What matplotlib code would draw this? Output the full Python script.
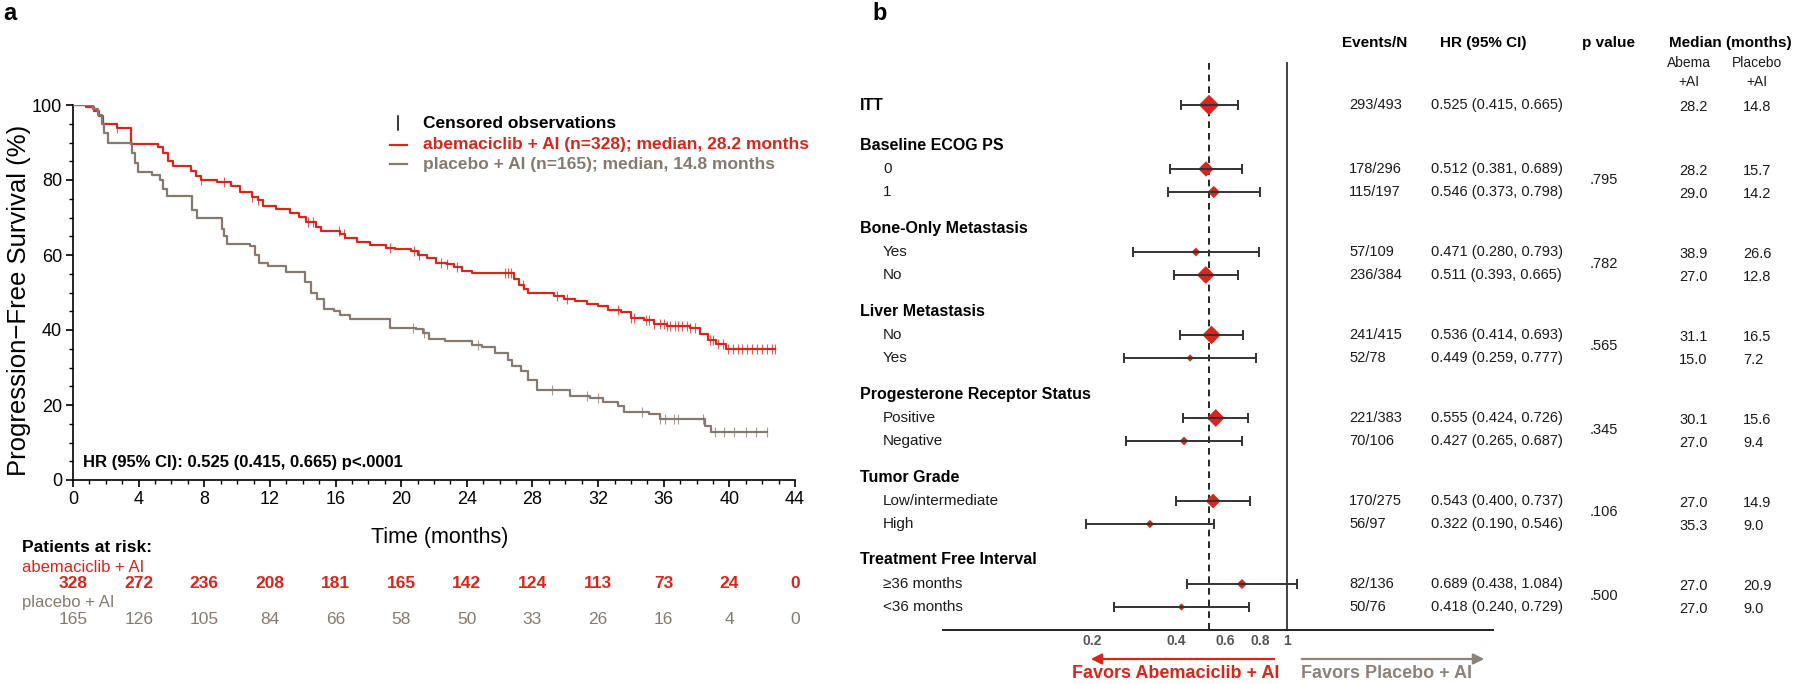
import numpy as np
import matplotlib
matplotlib.use("Agg")
import matplotlib.pyplot as plt
from matplotlib.lines import Line2D
from matplotlib.ticker import MultipleLocator, NullLocator
from matplotlib.transforms import blended_transform_factory

plt.rcParams["font.family"] = ["Liberation Sans", "DejaVu Sans"]

# ---- panel a: Kaplan-Meier data ----
abema_t = [0, 0.8, 1.3, 1.6, 1.8, 2.7, 3.55, 5.2, 5.5, 5.8, 6.1, 7.2, 7.5, 7.8, 8.8,
           9.6, 10.2, 10.9, 11.3, 11.6, 12.4, 13.2, 13.8, 14.2, 14.8, 15.1, 16.3, 16.6,
           17.3, 18.1, 19.1, 19.6, 20.6, 21.0, 21.6, 22.1, 22.8, 23.2, 23.7, 24.3, 26.9,
           27.2, 27.5, 27.7, 29.3, 29.9, 30.6, 31.3, 32.0, 32.6, 33.4, 34.0, 34.8, 35.4,
           36.2, 37.6, 38.2, 38.7, 39.2, 39.8, 42.8]
abema_s = [100, 99.5, 98.5, 97, 95, 94, 89.6, 88.8, 87.2, 85, 83.7, 82.3, 81, 80, 79.6,
           78.3, 76.7, 75.6, 74.6, 73.2, 72.2, 71.2, 70.1, 68.9, 67.6, 66.3, 65.6, 64.4,
           63.4, 62.7, 62.0, 61.6, 61.0, 60.1, 59.2, 57.9, 57.5, 56.8, 55.8, 55.2, 53.5,
           52.0, 51.0, 50.0, 49.0, 48.4, 47.8, 47.0, 46.3, 45.4, 44.8, 43.2, 42.6, 41.7,
           41.0, 40.5, 39.0, 37.4, 36.3, 35.0, 35.0]
abema_cens = [1.8, 2.7, 7.8, 9.2, 10.9, 11.3, 14.3, 14.6, 16.2, 16.5, 19.3, 20.8, 21.1,
              22.4, 22.8, 23.4, 26.3, 26.5, 26.7, 27.4, 29.5, 30.1, 33.2, 34.0, 34.2, 34.9,
              35.1, 35.4, 35.8, 36.0, 36.2, 36.4, 36.7, 36.9, 37.1, 37.4, 37.6, 37.9, 38.8,
              39.0, 39.3, 39.6, 39.9, 40.2, 40.5, 40.8, 41.1, 41.4, 41.7, 42.0, 42.3, 42.6,
              42.8]

placebo_t = [0, 1.2, 1.5, 1.75, 1.9, 2.15, 3.6, 3.8, 3.95, 4.8, 5.3, 5.5, 5.7, 7.25,
             7.55, 9.05, 9.2, 9.4, 10.8, 11.1, 11.35, 11.9, 13.0, 14.15, 14.5, 14.85, 15.3,
             15.9, 16.3, 16.9, 19.3, 20.9, 21.3, 21.7, 22.7, 24.3, 24.9, 25.7, 26.5, 26.75,
             27.3, 27.7, 28.3, 30.3, 31.5, 32.3, 33.2, 33.6, 35.1, 35.8, 38.5, 38.9, 42.3]
placebo_s = [100, 99, 97.4, 95, 92.5, 89.9, 87.2, 84.5, 82.1, 81.4, 80.1, 77.6, 75.8, 72.1,
             69.9, 67.0, 65.0, 63.0, 62.3, 60.0, 57.9, 57.2, 55.6, 52.7, 50.0, 48.3, 45.6,
             45.0, 44.1, 42.9, 40.5, 40.2, 39.3, 37.7, 37.0, 36.0, 35.4, 34.0, 32.0, 30.3,
             29.0, 26.8, 24.1, 22.3, 21.8, 20.8, 19.8, 18.1, 17.5, 16.2, 14.3, 12.8, 12.8]
placebo_cens = [20.7, 21.4, 24.7, 29.2, 31.3, 32.0, 34.7, 35.8, 36.1, 36.6, 36.9, 38.4,
                39.1, 39.7, 40.3, 41.0, 41.6, 42.3]

risk_times = [0, 4, 8, 12, 16, 20, 24, 28, 32, 36, 40, 44]
abema_risk = [328, 272, 236, 208, 181, 165, 142, 124, 113, 73, 24, 0]
placebo_risk = [165, 126, 105, 84, 66, 58, 50, 33, 26, 16, 4, 0]

# ---- panel b: forest plot data ----
groups = ["ITT", "Baseline ECOG PS", "Bone-Only Metastasis", "Liver Metastasis",
          "Progesterone Receptor Status", "Tumor Grade", "Treatment Free Interval"]
subgroups = [[], ["0", "1"], ["Yes", "No"], ["No", "Yes"], ["Positive", "Negative"],
             ["Low/intermediate", "High"], ["\u226536 months", "<36 months"]]
hr = [0.525, 0.512, 0.546, 0.471, 0.511, 0.536, 0.449, 0.555, 0.427, 0.543, 0.322, 0.689, 0.418]
hr_lo = [0.415, 0.381, 0.373, 0.280, 0.393, 0.414, 0.259, 0.424, 0.265, 0.400, 0.190, 0.438, 0.240]
hr_hi = [0.665, 0.689, 0.798, 0.793, 0.665, 0.693, 0.777, 0.726, 0.687, 0.737, 0.546, 1.084, 0.729]
events = ["293/493", "178/296", "115/197", "57/109", "236/384", "241/415", "52/78",
          "221/383", "70/106", "170/275", "56/97", "82/136", "50/76"]
p_values = [".795", ".782", ".565", ".345", ".106", ".500"]
median_abema = ["28.2", "28.2", "29.0", "38.9", "27.0", "31.1", "15.0", "30.1", "27.0",
                "27.0", "35.3", "27.0", "27.0"]
median_placebo = ["14.8", "15.7", "14.2", "26.6", "12.8", "16.5", "7.2", "15.6", "9.4",
                  "14.9", "9.0", "20.9", "9.0"]

RED = "#d8261c"
GRAY = "#857a70"
TXT = "#1a1a1a"

W, H = 1795, 684


def fx(px):
    return px / W


def fy(py):
    return 1 - py / H


fig = plt.figure(figsize=(W / 100, H / 100), dpi=100)

# ================= panel a =================
ax = fig.add_axes([fx(73), fy(480), fx(795) - fx(73), fy(105) - fy(480)])
for t, s, cens, col in [(abema_t, abema_s, abema_cens, RED),
                        (placebo_t, placebo_s, placebo_cens, GRAY)]:
    ax.step(t, s, where="post", color=col, lw=1.6, zorder=3)
    idx = np.searchsorted(t, cens, side="right") - 1
    ax.plot(cens, np.array(s)[idx], ls="none", marker="|", ms=7, mew=0.8,
            color=col, alpha=0.75, zorder=3)

ax.set_xlim(0, 44)
ax.set_ylim(0, 100)
ax.set_xticks(risk_times)
ax.set_yticks(range(0, 101, 20))
ax.xaxis.set_minor_locator(MultipleLocator(1))
ax.yaxis.set_minor_locator(MultipleLocator(5))
for side in ["top", "right"]:
    ax.spines[side].set_visible(False)
for side in ["left", "bottom"]:
    ax.spines[side].set_linewidth(1.2)
ax.tick_params(which="major", direction="out", length=5, width=1.2,
               labelsize=13, pad=3)
ax.tick_params(which="minor", direction="out", length=3, width=1)
ax.patch.set_visible(False)

fig.text(fx(3), fy(13), "a", fontsize=17, fontweight="bold", va="center")
fig.text(fx(19), fy(300), "Progression\u2212Free Survival (%)", fontsize=18.5,
         rotation=90, ha="center", va="center")
fig.text(fx(440), fy(538), "Time (months)", fontsize=15.5, ha="center", va="center")
fig.text(fx(83), fy(463), "HR (95% CI): 0.525 (0.415, 0.665) p<.0001", fontsize=12,
         fontweight="bold", va="center")

# legend
fig.add_artist(Line2D([fx(398)] * 2, [fy(116), fy(130)], color="black", lw=1.1))
fig.text(fx(423), fy(123), "Censored observations", fontsize=12.5, fontweight="bold",
         va="center", color="black")
fig.add_artist(Line2D([fx(390), fx(407)], [fy(145)] * 2, color=RED, lw=1.6))
fig.text(fx(423), fy(145), "abemaciclib + AI (n=328); median, 28.2 months",
         fontsize=12.5, fontweight="bold", va="center", color=RED)
fig.add_artist(Line2D([fx(390), fx(407)], [fy(164)] * 2, color=GRAY, lw=1.6))
fig.text(fx(423), fy(164), "placebo + AI (n=165); median, 14.8 months",
         fontsize=12.5, fontweight="bold", va="center", color=GRAY)

# patients at risk
fig.text(fx(22), fy(547), "Patients at risk:", fontsize=12.5, fontweight="bold",
         va="center")
fig.text(fx(22), fy(567), "abemaciclib + AI", fontsize=12, va="center", color=RED)
fig.text(fx(22), fy(602), "placebo + AI", fontsize=12, va="center", color=GRAY)
tr = blended_transform_factory(ax.transData, fig.transFigure)
for t, n_a, n_p in zip(risk_times, abema_risk, placebo_risk):
    ax.text(t, fy(584), str(n_a), transform=tr, ha="center", va="center",
            fontsize=12.5, fontweight="bold", color=RED)
    ax.text(t, fy(619), str(n_p), transform=tr, ha="center", va="center",
            fontsize=12.5, color=GRAY)

# ================= panel b =================
AX_L, AX_R, X_ONE, PX_LN = 943, 1493, 1287, 121
fa = fig.add_axes([fx(AX_L), 0, fx(AX_R) - fx(AX_L), 1])
fa.set_xscale("log")
fa.set_xlim(np.exp((AX_L - X_ONE) / PX_LN), np.exp((AX_R - X_ONE) / PX_LN))
fa.set_ylim(H, 0)
fa.patch.set_visible(False)
for side in ["top", "right", "left"]:
    fa.spines[side].set_visible(False)
fa.spines["bottom"].set_position(("data", 630))
fa.spines["bottom"].set_linewidth(1.4)
fa.spines["bottom"].set_color("#222222")
fa.set_yticks([])
fa.set_xticks([0.2, 0.4, 0.6, 0.8, 1])
fa.set_xticklabels(["0.2", "0.4", "0.6", "0.8", "1"])
fa.xaxis.set_minor_locator(NullLocator())
fa.tick_params(axis="x", length=0, pad=3, labelsize=10, labelcolor="#555555")
for lab in fa.get_xticklabels():
    lab.set_fontweight("bold")

fa.vlines(1, 62, 630, color="#333333", lw=1.3)
fa.vlines(hr[0], 63, 632, colors="black", linestyles=(0, (4, 3)), lw=1.2)

# row layout
row_y, head_y = [], []
y = 105
for g, subs in zip(groups, subgroups):
    if not subs:
        head_y.append(y)
        row_y.append(y)
        continue
    y += 36 if len(head_y) > 1 else 40
    head_y.append(y)
    y += 24
    row_y.append(y)
    y += 23
    row_y.append(y)

bt = blended_transform_factory(fig.transFigure, fa.transData)
fig.text(fx(872), fy(13), "b", fontsize=17, fontweight="bold", va="center")
for g, gy in zip(groups, head_y):
    fa.text(fx(860), gy, g, transform=bt, fontsize=11.5, fontweight="bold",
            va="center", color="black")
k = 1
for subs in subgroups:
    for s in subs:
        fa.text(fx(883), row_y[k], s, transform=bt, fontsize=11, va="center",
                color=TXT)
        k += 1

n_pts = np.array([int(e.split("/")[1]) for e in events])
hr_a, lo_a, hi_a = np.array(hr), np.array(hr_lo), np.array(hr_hi)
fa.scatter(hr_a, row_y, s=(10.4 * (n_pts / n_pts[0]) ** 0.55) ** 2, marker="D",
           color=RED, zorder=2, linewidths=0)
fa.errorbar(hr_a, row_y, xerr=[hr_a - lo_a, hi_a - hr_a], fmt="none", ecolor="#333333",
            elinewidth=1.4, capsize=3.5, capthick=1.4, zorder=3)

# table
hdr_kw = dict(transform=bt, fontsize=11, fontweight="bold", ha="center", va="center")
fa.text(fx(1375), 43, "Events/N", **hdr_kw)
fa.text(fx(1483), 43, "HR (95% CI)", **hdr_kw)
fa.text(fx(1609), 43, "p value", **hdr_kw)
fa.text(fx(1730), 43, "Median (months)", **hdr_kw)
sub_kw = dict(transform=bt, fontsize=10, ha="center", va="center", color=TXT)
fa.text(fx(1689), 63, "Abema", **sub_kw)
fa.text(fx(1689), 82, "+AI", **sub_kw)
fa.text(fx(1757), 63, "Placebo", **sub_kw)
fa.text(fx(1757), 82, "+AI", **sub_kw)

val_kw = dict(transform=bt, fontsize=10.5, va="center", color=TXT)
for i, ry in enumerate(row_y):
    fa.text(fx(1349), ry, events[i], **val_kw)
    fa.text(fx(1431), ry, "%.3f (%.3f, %.3f)" % (hr[i], hr_lo[i], hr_hi[i]), **val_kw)
    fa.text(fx(1679), ry + 2, median_abema[i], **val_kw)
    fa.text(fx(1743), ry + 2, median_placebo[i], **val_kw)
for j, pv in enumerate(p_values):
    py = (row_y[1 + 2 * j] + row_y[2 + 2 * j]) / 2
    fa.text(fx(1590), py, pv, **val_kw)

# favours arrows
fig.add_artist(matplotlib.patches.FancyArrowPatch(
    (fx(1277), fy(659)), (fx(1088), fy(659)), transform=fig.transFigure,
    arrowstyle="-|>", mutation_scale=16, color=RED, lw=1.6))
fig.text(fx(1176), fy(674), "Favors Abemaciclib + AI", fontsize=13, fontweight="bold",
         color=RED, ha="center", va="center")
fig.add_artist(matplotlib.patches.FancyArrowPatch(
    (fx(1299), fy(659)), (fx(1487), fy(659)), transform=fig.transFigure,
    arrowstyle="-|>", mutation_scale=16, color="#8c8279", lw=1.6))
fig.text(fx(1301), fy(674), "Favors Placebo + AI", fontsize=13, fontweight="bold",
         color="#8c8279", ha="left", va="center")

fig.savefig("out.png", dpi=100)
